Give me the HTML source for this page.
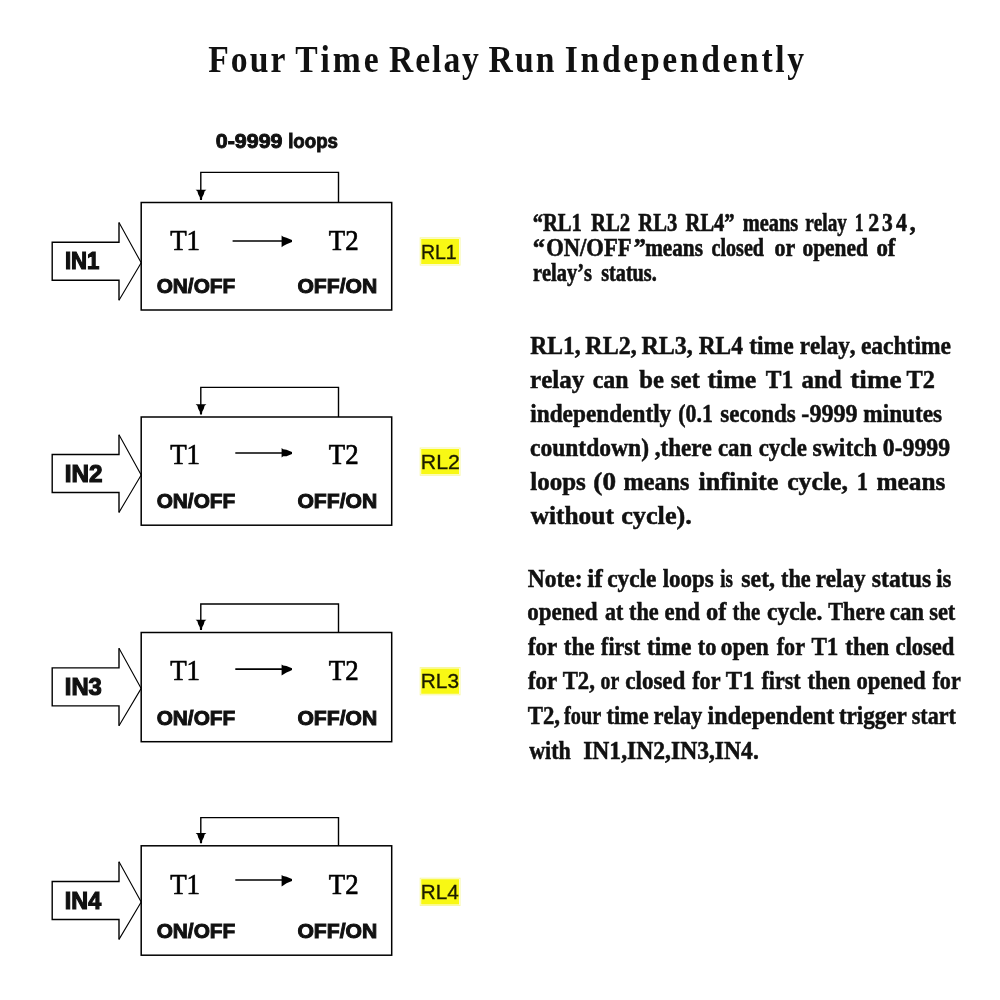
<!DOCTYPE html>
<html><head><meta charset="utf-8"><style>
html,body{margin:0;padding:0;background:#fff;width:1000px;height:1000px;overflow:hidden}
svg{display:block;will-change:transform}
text{fill:#111;white-space:pre;font-kerning:none;font-variant-ligatures:none}
.title{font-family:"Liberation Serif",serif;font-weight:bold}
.lp{font-family:"Liberation Sans",sans-serif;font-weight:bold;stroke:#111;stroke-width:0.9px}
.tt{font-family:"Liberation Serif",serif;fill:#000;stroke:#000;stroke-width:0.7px}
.bs{font-family:"Liberation Sans",sans-serif;font-weight:bold;stroke:#111;stroke-width:1px}
.in{font-family:"Liberation Sans",sans-serif;font-weight:bold;stroke:#111;stroke-width:1.2px}
.rl{font-family:"Liberation Sans",sans-serif;fill:#1a1a00;stroke:#1a1a00;stroke-width:0.3px}
.b1,.b2,.b3{font-family:"Liberation Serif",serif;font-weight:bold;stroke:#111}
.b1{stroke-width:0.6px}
.b2,.b3{stroke-width:0.5px}
</style></head><body>
<svg width="1000" height="1000" viewBox="0 0 1000 1000">
<rect width="1000" height="1000" fill="#fff"/>
<text class="title" style="font-size:38.2px" transform="matrix(0.88 0 0 1 208.23 72)" textLength="87.84" lengthAdjust="spacing">Four</text>
<text class="title" style="font-size:38.2px" transform="matrix(0.88 0 0 1 295.27 72)" textLength="94.77" lengthAdjust="spacing">Time</text>
<text class="title" style="font-size:38.2px" transform="matrix(0.88 0 0 1 389.03 72)" textLength="102.16" lengthAdjust="spacing">Relay</text>
<text class="title" style="font-size:38.2px" transform="matrix(0.88 0 0 1 488.43 72)" textLength="75.09" lengthAdjust="spacing">Run</text>
<text class="title" style="font-size:38.2px" transform="matrix(0.88 0 0 1 564.87 72)" textLength="271.89" lengthAdjust="spacing">Independently</text>
<text class="lp" style="font-size:20px" x="215.80" y="148.30" textLength="66.74" lengthAdjust="spacingAndGlyphs">0-9999</text>
<text class="lp" style="font-size:20px" x="288.14" y="148.30" textLength="49.87" lengthAdjust="spacingAndGlyphs">loops</text>
<rect x="141.2" y="202.50" width="250.5" height="107.50" fill="none" stroke="#000" stroke-width="1.5"/>
<polyline points="338.5,202.50 338.5,172.40 200.8,172.40 200.8,190.50" fill="none" stroke="#000" stroke-width="1.4"/>
<polygon points="195.6,189.70 206.4,189.70 204.6,191.30 203.8,194.20 202.2,197.20 202,200.00 200,200.00 199.8,197.20 198.2,194.20 197.4,191.30" fill="#000"/>
<line x1="232.60" y1="241.00" x2="284" y2="241.00" stroke="#000" stroke-width="1.7"/>
<polygon points="281.6,235.60 283.2,236.80 286.5,237.80 289.5,239.00 292,240.10 292,241.90 289.5,243.00 286.5,244.20 283.2,246.10 281.6,247.30" fill="#000"/>
<polyline points="119,222.60 119,242.30 52.2,242.30 52.2,280.30 119,280.30 119,300.20" fill="none" stroke="#000" stroke-width="1.4"/>
<polyline points="119,222.60 141.2,262.80 119,300.20" fill="none" stroke="#000" stroke-width="1.1"/>
<text class="tt" style="font-size:29px" x="170.16" y="250.15" textLength="29.90" lengthAdjust="spacingAndGlyphs">T1</text>
<text class="tt" style="font-size:29px" x="328.87" y="250.15" textLength="29.76" lengthAdjust="spacingAndGlyphs">T2</text>
<text class="bs" style="font-size:21px" x="156.65" y="293.30" textLength="78.62" lengthAdjust="spacingAndGlyphs">ON/OFF</text>
<text class="bs" style="font-size:21px" x="297.43" y="293.30" textLength="79.79" lengthAdjust="spacingAndGlyphs">OFF/ON</text>
<text class="in" style="font-size:24.5px" x="64.92" y="269.40" textLength="34.50" lengthAdjust="spacingAndGlyphs">IN1</text>
<rect x="421.2" y="238.80" width="37.8" height="25.3" fill="#f8f814"/>
<rect x="420.2" y="237.80" width="39.8" height="27.3" fill="none" stroke="#f8f8a0" stroke-width="1"/>
<text class="rl" style="font-size:19.5px" x="420.95" y="258.75" textLength="35.75" lengthAdjust="spacingAndGlyphs">RL1</text>
<rect x="141.2" y="417.00" width="250.5" height="108.20" fill="none" stroke="#000" stroke-width="1.5"/>
<polyline points="338.5,417.00 338.5,387.40 200.8,387.40 200.8,405.00" fill="none" stroke="#000" stroke-width="1.4"/>
<polygon points="195.6,404.20 206.4,404.20 204.6,405.80 203.8,408.70 202.2,411.70 202,414.50 200,414.50 199.8,411.70 198.2,408.70 197.4,405.80" fill="#000"/>
<line x1="235.30" y1="453.00" x2="284" y2="453.00" stroke="#000" stroke-width="1.7"/>
<polygon points="281.6,448.00 283.2,449.20 286.5,449.80 289.5,451.00 292,452.10 292,453.90 289.5,455.00 286.5,456.20 283.2,456.30 281.6,457.50" fill="#000"/>
<polyline points="119,434.80 119,454.50 52.2,454.50 52.2,492.50 119,492.50 119,512.40" fill="none" stroke="#000" stroke-width="1.4"/>
<polyline points="119,434.80 141.2,475.00 119,512.40" fill="none" stroke="#000" stroke-width="1.1"/>
<text class="tt" style="font-size:29px" x="170.16" y="463.65" textLength="29.90" lengthAdjust="spacingAndGlyphs">T1</text>
<text class="tt" style="font-size:29px" x="328.87" y="463.65" textLength="29.76" lengthAdjust="spacingAndGlyphs">T2</text>
<text class="bs" style="font-size:21px" x="156.65" y="508.30" textLength="78.62" lengthAdjust="spacingAndGlyphs">ON/OFF</text>
<text class="bs" style="font-size:21px" x="297.43" y="508.30" textLength="79.79" lengthAdjust="spacingAndGlyphs">OFF/ON</text>
<text class="in" style="font-size:24.5px" x="64.78" y="481.60" textLength="37.80" lengthAdjust="spacingAndGlyphs">IN2</text>
<rect x="421.2" y="449.00" width="37.8" height="25.3" fill="#f8f814"/>
<rect x="420.2" y="448.00" width="39.8" height="27.3" fill="none" stroke="#f8f8a0" stroke-width="1"/>
<text class="rl" style="font-size:19.5px" x="420.81" y="468.95" textLength="39.01" lengthAdjust="spacingAndGlyphs">RL2</text>
<rect x="141.2" y="632.50" width="250.5" height="109.20" fill="none" stroke="#000" stroke-width="1.5"/>
<polyline points="338.5,632.50 338.5,604.00 200.8,604.00 200.8,620.50" fill="none" stroke="#000" stroke-width="1.4"/>
<polygon points="195.6,619.70 206.4,619.70 204.6,621.30 203.8,624.20 202.2,627.20 202,630.00 200,630.00 199.8,627.20 198.2,624.20 197.4,621.30" fill="#000"/>
<line x1="235.30" y1="669.20" x2="284" y2="669.20" stroke="#000" stroke-width="1.7"/>
<polygon points="281.6,664.40 283.2,665.60 286.5,666.00 289.5,667.20 292,668.30 292,670.10 289.5,671.20 286.5,672.40 283.2,674.40 281.6,675.60" fill="#000"/>
<polyline points="119,648.20 119,667.90 52.2,667.90 52.2,705.90 119,705.90 119,725.80" fill="none" stroke="#000" stroke-width="1.4"/>
<polyline points="119,648.20 141.2,688.40 119,725.80" fill="none" stroke="#000" stroke-width="1.1"/>
<text class="tt" style="font-size:29px" x="170.16" y="680.15" textLength="29.90" lengthAdjust="spacingAndGlyphs">T1</text>
<text class="tt" style="font-size:29px" x="328.87" y="680.15" textLength="29.76" lengthAdjust="spacingAndGlyphs">T2</text>
<text class="bs" style="font-size:21px" x="156.65" y="724.80" textLength="78.62" lengthAdjust="spacingAndGlyphs">ON/OFF</text>
<text class="bs" style="font-size:21px" x="297.43" y="724.80" textLength="79.79" lengthAdjust="spacingAndGlyphs">OFF/ON</text>
<text class="in" style="font-size:24.5px" x="64.81" y="695.00" textLength="37.05" lengthAdjust="spacingAndGlyphs">IN3</text>
<rect x="421.2" y="668.50" width="37.8" height="25.3" fill="#f8f814"/>
<rect x="420.2" y="667.50" width="39.8" height="27.3" fill="none" stroke="#f8f8a0" stroke-width="1"/>
<text class="rl" style="font-size:19.5px" x="420.84" y="688.45" textLength="38.22" lengthAdjust="spacingAndGlyphs">RL3</text>
<rect x="141.2" y="845.80" width="250.5" height="109.40" fill="none" stroke="#000" stroke-width="1.5"/>
<polyline points="338.5,845.80 338.5,817.60 200.8,817.60 200.8,833.80" fill="none" stroke="#000" stroke-width="1.4"/>
<polygon points="195.6,833.00 206.4,833.00 204.6,834.60 203.8,837.50 202.2,840.50 202,843.30 200,843.30 199.8,840.50 198.2,837.50 197.4,834.60" fill="#000"/>
<line x1="235.30" y1="880.00" x2="284" y2="880.00" stroke="#000" stroke-width="1.7"/>
<polygon points="281.6,874.90 283.2,876.10 286.5,876.80 289.5,878.00 292,879.10 292,880.90 289.5,882.00 286.5,883.20 283.2,885.40 281.6,886.60" fill="#000"/>
<polyline points="119,861.80 119,881.50 52.2,881.50 52.2,919.50 119,919.50 119,939.40" fill="none" stroke="#000" stroke-width="1.4"/>
<polyline points="119,861.80 141.2,902.00 119,939.40" fill="none" stroke="#000" stroke-width="1.1"/>
<text class="tt" style="font-size:29px" x="170.16" y="893.65" textLength="29.90" lengthAdjust="spacingAndGlyphs">T1</text>
<text class="tt" style="font-size:29px" x="328.87" y="893.65" textLength="29.76" lengthAdjust="spacingAndGlyphs">T2</text>
<text class="bs" style="font-size:21px" x="156.65" y="938.30" textLength="78.62" lengthAdjust="spacingAndGlyphs">ON/OFF</text>
<text class="bs" style="font-size:21px" x="297.43" y="938.30" textLength="79.79" lengthAdjust="spacingAndGlyphs">OFF/ON</text>
<text class="in" style="font-size:24.5px" x="64.84" y="908.60" textLength="36.29" lengthAdjust="spacingAndGlyphs">IN4</text>
<rect x="421.2" y="879.20" width="37.8" height="25.3" fill="#f8f814"/>
<rect x="420.2" y="878.20" width="39.8" height="27.3" fill="none" stroke="#f8f8a0" stroke-width="1"/>
<text class="rl" style="font-size:19.5px" x="420.86" y="899.15" textLength="37.90" lengthAdjust="spacingAndGlyphs">RL4</text>
<text class="b1" style="font-size:24.4px" x="532.71" y="231.00" textLength="49.16" lengthAdjust="spacingAndGlyphs">“RL1</text>
<text class="b1" style="font-size:24.4px" x="590.95" y="231.00" textLength="39.14" lengthAdjust="spacingAndGlyphs">RL2</text>
<text class="b1" style="font-size:24.4px" x="638.25" y="231.00" textLength="38.96" lengthAdjust="spacingAndGlyphs">RL3</text>
<text class="b1" style="font-size:24.4px" x="685.55" y="231.00" textLength="49.07" lengthAdjust="spacingAndGlyphs">RL4”</text>
<text class="b1" style="font-size:24.4px" x="742.75" y="231.00" textLength="55.44" lengthAdjust="spacingAndGlyphs">means</text>
<text class="b1" style="font-size:24.4px" x="805.28" y="231.00" textLength="41.60" lengthAdjust="spacingAndGlyphs">relay</text>
<text class="b1" style="font-size:24.4px" x="854.69" y="231.00" textLength="8.83" lengthAdjust="spacingAndGlyphs">1</text>
<text class="b1" style="font-size:24.4px" x="868.18" y="231.00" textLength="10.96" lengthAdjust="spacingAndGlyphs">2</text>
<text class="b1" style="font-size:24.4px" x="881.89" y="231.00" textLength="10.74" lengthAdjust="spacingAndGlyphs">3</text>
<text class="b1" style="font-size:24.4px" x="896.00" y="231.00" textLength="11.01" lengthAdjust="spacingAndGlyphs">4</text>
<text class="b1" style="font-size:24.4px" x="909.69" y="231.00" textLength="5.91" lengthAdjust="spacingAndGlyphs">,</text>
<text class="b1" style="font-size:24.4px" x="532.72" y="256.10" textLength="12.17" lengthAdjust="spacingAndGlyphs">“</text>
<text class="b1" style="font-size:24.4px" x="546.20" y="256.10" textLength="85.28" lengthAdjust="spacingAndGlyphs">ON/OFF</text>
<text class="b1" style="font-size:24.4px" x="633.69" y="256.10" textLength="12.10" lengthAdjust="spacingAndGlyphs">”</text>
<text class="b1" style="font-size:24.4px" x="645.23" y="256.10" textLength="57.69" lengthAdjust="spacingAndGlyphs">means</text>
<text class="b1" style="font-size:24.4px" x="711.62" y="256.10" textLength="52.31" lengthAdjust="spacingAndGlyphs">closed</text>
<text class="b1" style="font-size:24.4px" x="774.46" y="256.10" textLength="20.71" lengthAdjust="spacingAndGlyphs">or</text>
<text class="b1" style="font-size:24.4px" x="802.48" y="256.10" textLength="65.46" lengthAdjust="spacingAndGlyphs">opened</text>
<text class="b1" style="font-size:24.4px" x="876.43" y="256.10" textLength="19.05" lengthAdjust="spacingAndGlyphs">of</text>
<text class="b1" style="font-size:24.4px" x="532.95" y="281.30" textLength="58.95" lengthAdjust="spacingAndGlyphs">relay’s</text>
<text class="b1" style="font-size:24.4px" x="601.19" y="281.30" textLength="55.60" lengthAdjust="spacingAndGlyphs">status.</text>
<text class="b2" style="font-size:25.2px" x="530.35" y="353.60" textLength="50.30" lengthAdjust="spacingAndGlyphs">RL1,</text>
<text class="b2" style="font-size:25.2px" x="585.34" y="353.60" textLength="51.32" lengthAdjust="spacingAndGlyphs">RL2,</text>
<text class="b2" style="font-size:25.2px" x="641.44" y="353.60" textLength="51.43" lengthAdjust="spacingAndGlyphs">RL3,</text>
<text class="b2" style="font-size:25.2px" x="698.65" y="353.60" textLength="44.23" lengthAdjust="spacingAndGlyphs">RL4</text>
<text class="b2" style="font-size:25.2px" x="749.17" y="353.60" textLength="44.49" lengthAdjust="spacingAndGlyphs">time</text>
<text class="b2" style="font-size:25.2px" x="799.63" y="353.60" textLength="56.01" lengthAdjust="spacingAndGlyphs">relay,</text>
<text class="b2" style="font-size:25.2px" x="860.95" y="353.60" textLength="90.01" lengthAdjust="spacingAndGlyphs">eachtime</text>
<text class="b2" style="font-size:25.2px" x="530.08" y="387.80" textLength="54.32" lengthAdjust="spacingAndGlyphs">relay</text>
<text class="b2" style="font-size:25.2px" x="592.63" y="387.80" textLength="35.88" lengthAdjust="spacingAndGlyphs">can</text>
<text class="b2" style="font-size:25.2px" x="639.34" y="387.80" textLength="24.65" lengthAdjust="spacingAndGlyphs">be</text>
<text class="b2" style="font-size:25.2px" x="670.80" y="387.80" textLength="29.06" lengthAdjust="spacingAndGlyphs">set</text>
<text class="b2" style="font-size:25.2px" x="707.43" y="387.80" textLength="48.89" lengthAdjust="spacingAndGlyphs">time</text>
<text class="b2" style="font-size:25.2px" x="765.68" y="387.80" textLength="27.49" lengthAdjust="spacingAndGlyphs">T1</text>
<text class="b2" style="font-size:25.2px" x="801.44" y="387.80" textLength="40.29" lengthAdjust="spacingAndGlyphs">and</text>
<text class="b2" style="font-size:25.2px" x="850.31" y="387.80" textLength="51.24" lengthAdjust="spacingAndGlyphs">time</text>
<text class="b2" style="font-size:25.2px" x="906.47" y="387.80" textLength="28.43" lengthAdjust="spacingAndGlyphs">T2</text>
<text class="b2" style="font-size:25.2px" x="530.24" y="421.80" textLength="141.04" lengthAdjust="spacingAndGlyphs">independently</text>
<text class="b2" style="font-size:25.2px" x="678.29" y="421.80" textLength="34.59" lengthAdjust="spacingAndGlyphs">(0.1</text>
<text class="b2" style="font-size:25.2px" x="720.35" y="421.80" textLength="75.46" lengthAdjust="spacingAndGlyphs">seconds</text>
<text class="b2" style="font-size:25.2px" x="801.37" y="421.80" textLength="56.25" lengthAdjust="spacingAndGlyphs">-9999</text>
<text class="b2" style="font-size:25.2px" x="863.33" y="421.80" textLength="78.79" lengthAdjust="spacingAndGlyphs">minutes</text>
<text class="b2" style="font-size:25.2px" x="529.95" y="456.30" textLength="119.04" lengthAdjust="spacingAndGlyphs">countdown)</text>
<text class="b2" style="font-size:25.2px" x="654.75" y="456.30" textLength="57.10" lengthAdjust="spacingAndGlyphs">,there</text>
<text class="b2" style="font-size:25.2px" x="717.97" y="456.30" textLength="34.23" lengthAdjust="spacingAndGlyphs">can</text>
<text class="b2" style="font-size:25.2px" x="758.67" y="456.30" textLength="48.17" lengthAdjust="spacingAndGlyphs">cycle</text>
<text class="b2" style="font-size:25.2px" x="812.53" y="456.30" textLength="64.48" lengthAdjust="spacingAndGlyphs">switch</text>
<text class="b2" style="font-size:25.2px" x="882.85" y="456.30" textLength="67.26" lengthAdjust="spacingAndGlyphs">0-9999</text>
<text class="b2" style="font-size:25.2px" x="530.26" y="490.40" textLength="55.60" lengthAdjust="spacingAndGlyphs">loops</text>
<text class="b2" style="font-size:25.2px" x="593.36" y="490.40" textLength="22.63" lengthAdjust="spacingAndGlyphs">(0</text>
<text class="b2" style="font-size:25.2px" x="623.60" y="490.40" textLength="65.74" lengthAdjust="spacingAndGlyphs">means</text>
<text class="b2" style="font-size:25.2px" x="698.48" y="490.40" textLength="79.85" lengthAdjust="spacingAndGlyphs">infinite</text>
<text class="b2" style="font-size:25.2px" x="787.17" y="490.40" textLength="60.76" lengthAdjust="spacingAndGlyphs">cycle,</text>
<text class="b2" style="font-size:25.2px" x="856.64" y="490.40" textLength="11.27" lengthAdjust="spacingAndGlyphs">1</text>
<text class="b2" style="font-size:25.2px" x="876.47" y="490.40" textLength="68.90" lengthAdjust="spacingAndGlyphs">means</text>
<text class="b2" style="font-size:25.2px" x="530.68" y="524.00" textLength="83.19" lengthAdjust="spacingAndGlyphs">without</text>
<text class="b2" style="font-size:25.2px" x="621.15" y="524.00" textLength="70.75" lengthAdjust="spacingAndGlyphs">cycle).</text>
<text class="b3" style="font-size:24.4px" x="527.70" y="586.80" textLength="54.95" lengthAdjust="spacingAndGlyphs">Note:</text>
<text class="b3" style="font-size:24.4px" x="587.19" y="586.80" textLength="15.61" lengthAdjust="spacingAndGlyphs">if</text>
<text class="b3" style="font-size:24.4px" x="607.25" y="586.80" textLength="49.20" lengthAdjust="spacingAndGlyphs">cycle</text>
<text class="b3" style="font-size:24.4px" x="662.70" y="586.80" textLength="51.11" lengthAdjust="spacingAndGlyphs">loops</text>
<text class="b3" style="font-size:24.4px" x="720.13" y="586.80" textLength="12.68" lengthAdjust="spacingAndGlyphs">is</text>
<text class="b3" style="font-size:24.4px" x="741.33" y="586.80" textLength="33.73" lengthAdjust="spacingAndGlyphs">set,</text>
<text class="b3" style="font-size:24.4px" x="780.99" y="586.80" textLength="29.74" lengthAdjust="spacingAndGlyphs">the</text>
<text class="b3" style="font-size:24.4px" x="815.63" y="586.80" textLength="49.84" lengthAdjust="spacingAndGlyphs">relay</text>
<text class="b3" style="font-size:24.4px" x="871.83" y="586.80" textLength="59.30" lengthAdjust="spacingAndGlyphs">status</text>
<text class="b3" style="font-size:24.4px" x="936.15" y="586.80" textLength="15.15" lengthAdjust="spacingAndGlyphs">is</text>
<text class="b3" style="font-size:24.4px" x="527.27" y="620.20" textLength="70.33" lengthAdjust="spacingAndGlyphs">opened</text>
<text class="b3" style="font-size:24.4px" x="605.04" y="620.20" textLength="18.30" lengthAdjust="spacingAndGlyphs">at</text>
<text class="b3" style="font-size:24.4px" x="628.99" y="620.20" textLength="29.74" lengthAdjust="spacingAndGlyphs">the</text>
<text class="b3" style="font-size:24.4px" x="664.57" y="620.20" textLength="35.43" lengthAdjust="spacingAndGlyphs">end</text>
<text class="b3" style="font-size:24.4px" x="706.12" y="620.20" textLength="20.39" lengthAdjust="spacingAndGlyphs">of</text>
<text class="b3" style="font-size:24.4px" x="732.52" y="620.20" textLength="27.57" lengthAdjust="spacingAndGlyphs">the</text>
<text class="b3" style="font-size:24.4px" x="767.05" y="620.20" textLength="55.33" lengthAdjust="spacingAndGlyphs">cycle.</text>
<text class="b3" style="font-size:24.4px" x="828.30" y="620.20" textLength="56.62" lengthAdjust="spacingAndGlyphs">There</text>
<text class="b3" style="font-size:24.4px" x="889.77" y="620.20" textLength="34.33" lengthAdjust="spacingAndGlyphs">can</text>
<text class="b3" style="font-size:24.4px" x="929.17" y="620.20" textLength="26.18" lengthAdjust="spacingAndGlyphs">set</text>
<text class="b3" style="font-size:24.4px" x="527.98" y="654.60" textLength="29.36" lengthAdjust="spacingAndGlyphs">for</text>
<text class="b3" style="font-size:24.4px" x="563.78" y="654.60" textLength="30.87" lengthAdjust="spacingAndGlyphs">the</text>
<text class="b3" style="font-size:24.4px" x="601.09" y="654.60" textLength="39.16" lengthAdjust="spacingAndGlyphs">first</text>
<text class="b3" style="font-size:24.4px" x="646.97" y="654.60" textLength="44.39" lengthAdjust="spacingAndGlyphs">time</text>
<text class="b3" style="font-size:24.4px" x="697.69" y="654.60" textLength="18.72" lengthAdjust="spacingAndGlyphs">to</text>
<text class="b3" style="font-size:24.4px" x="720.76" y="654.60" textLength="48.15" lengthAdjust="spacingAndGlyphs">open</text>
<text class="b3" style="font-size:24.4px" x="776.69" y="654.60" textLength="28.34" lengthAdjust="spacingAndGlyphs">for</text>
<text class="b3" style="font-size:24.4px" x="811.39" y="654.60" textLength="26.96" lengthAdjust="spacingAndGlyphs">T1</text>
<text class="b3" style="font-size:24.4px" x="845.17" y="654.60" textLength="44.03" lengthAdjust="spacingAndGlyphs">then</text>
<text class="b3" style="font-size:24.4px" x="895.38" y="654.60" textLength="59.03" lengthAdjust="spacingAndGlyphs">closed</text>
<text class="b3" style="font-size:24.4px" x="527.98" y="688.60" textLength="29.36" lengthAdjust="spacingAndGlyphs">for</text>
<text class="b3" style="font-size:24.4px" x="562.69" y="688.60" textLength="32.22" lengthAdjust="spacingAndGlyphs">T2,</text>
<text class="b3" style="font-size:24.4px" x="600.50" y="688.60" textLength="18.68" lengthAdjust="spacingAndGlyphs">or</text>
<text class="b3" style="font-size:24.4px" x="625.26" y="688.60" textLength="60.15" lengthAdjust="spacingAndGlyphs">closed</text>
<text class="b3" style="font-size:24.4px" x="692.19" y="688.60" textLength="28.34" lengthAdjust="spacingAndGlyphs">for</text>
<text class="b3" style="font-size:24.4px" x="725.76" y="688.60" textLength="28.76" lengthAdjust="spacingAndGlyphs">T1</text>
<text class="b3" style="font-size:24.4px" x="761.49" y="688.60" textLength="39.16" lengthAdjust="spacingAndGlyphs">first</text>
<text class="b3" style="font-size:24.4px" x="807.38" y="688.60" textLength="43.01" lengthAdjust="spacingAndGlyphs">then</text>
<text class="b3" style="font-size:24.4px" x="856.39" y="688.60" textLength="69.22" lengthAdjust="spacingAndGlyphs">opened</text>
<text class="b3" style="font-size:24.4px" x="932.49" y="688.60" textLength="28.24" lengthAdjust="spacingAndGlyphs">for</text>
<text class="b3" style="font-size:24.4px" x="527.79" y="723.50" textLength="32.22" lengthAdjust="spacingAndGlyphs">T2,</text>
<text class="b3" style="font-size:24.4px" x="564.00" y="723.50" textLength="37.18" lengthAdjust="spacingAndGlyphs">four</text>
<text class="b3" style="font-size:24.4px" x="606.49" y="723.50" textLength="42.14" lengthAdjust="spacingAndGlyphs">time</text>
<text class="b3" style="font-size:24.4px" x="653.55" y="723.50" textLength="48.72" lengthAdjust="spacingAndGlyphs">relay</text>
<text class="b3" style="font-size:24.4px" x="707.62" y="723.50" textLength="126.73" lengthAdjust="spacingAndGlyphs">independent</text>
<text class="b3" style="font-size:24.4px" x="838.88" y="723.50" textLength="67.87" lengthAdjust="spacingAndGlyphs">trigger</text>
<text class="b3" style="font-size:24.4px" x="911.68" y="723.50" textLength="44.17" lengthAdjust="spacingAndGlyphs">start</text>
<text class="b3" style="font-size:24.4px" x="529.19" y="759.00" textLength="41.60" lengthAdjust="spacingAndGlyphs">with</text>
<text class="b3" style="font-size:24.4px" x="583.16" y="759.00" textLength="175.63" lengthAdjust="spacingAndGlyphs">IN1,IN2,IN3,IN4.</text>
</svg>
</body></html>
